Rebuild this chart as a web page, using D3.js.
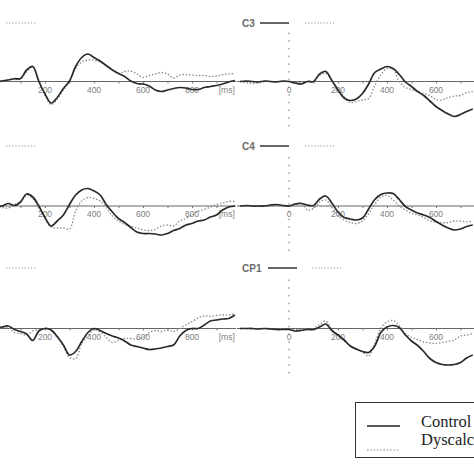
<!DOCTYPE html>
<html><head><meta charset="utf-8">
<script src="https://cdn.jsdelivr.net/npm/d3@7"></script>
<style>html,body{margin:0;padding:0;background:#fff;overflow:hidden}svg{display:block}</style>
</head><body>
<script>
// ---- data (ms, µV-like units; positive = up) ----
const timesLeft = d3.range(0, 1000, 25);      // 0 .. 975
const timesRight = d3.range(-200, 775, 25);   // -200 .. 750
const panelLabels = ["", "C3", "", "C4", "", "CP1"];
const legendLabels = ["Control", "Dyscalculia"];
const tickLabelValues = [0, 200, 400, 600, 800];

// left column, row 1
const L1_control = [0,0.1,0.3,0.55,0.6,2.3,3.0,0,-2.5,-4.3,-3.2,-1.4,0.1,3.0,4.8,5.5,4.8,4.1,3.2,2.3,1.6,1.0,0.1,-0.4,-0.5,-0.9,-1.7,-2.0,-1.7,-1.4,-1.2,-1.3,-1.6,-1.6,-1.2,-1.0,-0.8,-0.5,-0.1,0.2];
const L1_dyscalc = [0,0,0.4,0.4,0.5,2.0,2.9,0.2,-2.7,-4.6,-3.5,-1.7,0,2.6,3.9,4.3,4.3,3.9,3.2,2.3,1.6,2.0,2.1,1.5,0.8,1.2,1.5,1.8,1.5,0.7,1.3,1.4,1.3,1.2,1.2,1.0,1.1,1.4,1.5,1.6];
// left column, row 2
const L2_control = [0,0,0.5,0.1,0.8,2.4,1.8,0,-2.3,-4.0,-3.0,-1.8,0.3,2.2,3.2,3.5,3.0,2.2,0.3,-1.2,-2.5,-3.3,-4.3,-5.2,-5.5,-5.5,-5.6,-5.8,-5.5,-4.9,-4.5,-3.8,-3.5,-3.0,-2.8,-2.2,-1.8,-0.8,-0.2,0];
const L2_dyscalc = [0,-0.3,-0.4,0.3,0.8,2.2,1.5,-0.5,-2.5,-4.2,-4.4,-4.4,-4.6,-1.0,1.0,1.7,1.5,1.0,-0.3,-2.0,-3.0,-3.7,-4.0,-4.4,-4.8,-4.9,-4.7,-4.0,-3.8,-4.0,-3.0,-2.5,-1.8,-1.0,-0.7,-0.2,0.3,0.6,0.9,0.9];
// left column, row 3
const L3_control = [0,0.3,0.5,-0.2,-0.6,-1.1,-2.4,-0.5,0,-0.3,-1.6,-3.3,-5.3,-4.6,-2.6,-0.8,0,-0.4,-1.0,-1.5,-1.9,-2.5,-3.3,-3.6,-3.9,-4.2,-4.1,-3.9,-3.6,-3.3,-1.5,-0.4,0,0,0.7,1.5,1.7,1.9,2.0,2.7];
const L3_dyscalc = [0,0.2,0.2,-0.8,-1.0,-1.3,-0.5,-0.2,0,-0.4,-1.8,-3.5,-5.8,-6.0,-3.0,-1.5,-0.2,-0.7,-1.8,-2.8,-2.3,-2.0,-2.0,-2.1,-1.8,-0.8,-0.4,-0.6,-0.3,-0.6,0,0.7,1.4,2.1,2.5,2.4,2.6,2.7,2.7,3.0];
// right column, C3
const C3_control = [0,0.1,0,-0.1,0.1,0,-0.1,0.1,0,-0.3,-0.5,0,0,1.5,2.0,0.2,-1.7,-3.3,-3.8,-3.5,-2.4,-0.5,1.8,2.5,3.0,2.6,1.4,-0.1,-1.0,-2.0,-2.8,-3.9,-5.0,-5.8,-6.5,-7.0,-6.6,-6.0,-5.5];
const C3_dyscalc = [0,-0.2,-0.4,-0.3,0,0,0,0,0,-0.1,-0.2,0,0,1.2,1.6,0.2,-1.5,-3.0,-4.2,-4.0,-3.7,-3.4,-0.8,1.3,2.6,2.4,0,-1.2,-1.6,-2.0,-2.4,-2.8,-3.6,-3.7,-3.2,-2.9,-2.8,-2.2,-2.0];
// right column, C4
const C4_control = [0,0.1,0,0,0,0.2,0.3,0.1,0,0.4,0.5,0.2,0.1,1.4,2.0,0.6,-1.2,-2.3,-2.6,-2.8,-2.4,-0.6,1.3,2.3,2.6,2.5,1.3,-0.1,-0.8,-1.4,-1.8,-2.3,-3.1,-3.8,-4.4,-4.8,-4.6,-4.1,-3.8];
const C4_dyscalc = [0,0,0,-0.1,0,0.1,0.2,0,0,0.2,0.6,-0.8,-0.5,0.8,1.2,-0.3,-1.8,-2.8,-3.3,-3.5,-3.0,-1.5,0.3,1.8,2.1,1.2,0,-0.8,-1.5,-1.8,-2.3,-3.0,-3.2,-3.4,-3.3,-3.0,-3.0,-3.2,-3.0];
// right column, CP1
const CP1_control = [0,0,0,-0.1,0,-0.1,-0.2,-0.2,-0.2,-0.5,-0.4,-0.2,-0.2,0.3,0.9,-0.4,-1.3,-2.3,-3.5,-4.1,-4.6,-4.8,-3.5,-0.8,0.3,0.6,0.2,-1.3,-2.5,-3.4,-4.6,-6.0,-6.8,-7.2,-7.3,-7.2,-6.8,-5.9,-5.3];
const CP1_dyscalc = [0,0,-0.1,0,0,0,-0.1,-0.1,-0.1,-0.2,-0.2,-0.1,0,0.8,1.5,-0.3,-1.5,-2.5,-3.5,-4.2,-4.7,-5.5,-3.0,0,1.3,1.6,0.6,-1.0,-1.8,-2.2,-2.7,-2.9,-3.0,-2.8,-2.6,-2.3,-1.5,-1.3,-1.0];

// ---- layout ----
const W = 474, H = 474;
const svg = d3.select("body").append("svg").attr("width", W).attr("height", H)
  .style("font-family", "Arial, 'Liberation Sans', sans-serif");

const colZero = [-4, 289];              // x of 0 ms
const pxPerMs = 0.245;
const baselines = [81.5, 206, 328.5];
const axisSpan = [[0, 236], [237, 474]];

const panels = [
  {col:0,row:0,times:timesLeft,c:L1_control,d:L1_dyscalc},
  {col:1,row:0,times:timesRight,c:C3_control,d:C3_dyscalc},
  {col:0,row:1,times:timesLeft,c:L2_control,d:L2_dyscalc},
  {col:1,row:1,times:timesRight,c:C4_control,d:C4_dyscalc},
  {col:0,row:2,times:timesLeft,c:L3_control,d:L3_dyscalc},
  {col:1,row:2,times:timesRight,c:CP1_control,d:CP1_dyscalc}
];

panels.forEach((p, i) => {
  const x = d3.scaleLinear().domain([0, 1000]).range([colZero[p.col], colZero[p.col] + 1000 * pxPerMs]);
  const b = baselines[p.row];
  const y = d3.scaleLinear().domain([-10, 10]).range([b + 50, b - 50]);
  const g = svg.append("g");

  // baseline
  g.append("line").attr("x1", axisSpan[p.col][0]).attr("x2", axisSpan[p.col][1])
    .attr("y1", y(0)).attr("y2", y(0)).attr("stroke", "#666").attr("stroke-width", 1.2);

  // axis ticks and labels (only those inside the picture)
  const axis = d3.axisBottom(x).tickValues(d3.range(100, 1000, 100)).tickSize(2).tickFormat("");
  const ag = g.append("g").attr("transform", `translate(0,${y(0)})`).call(axis);
  ag.select(".domain").remove();
  ag.selectAll("line").attr("stroke", "#777");
  const inside = tickLabelValues.filter(d => x(d) > 6 && x(d) < W - 6);
  g.selectAll("text.tl").data(inside).enter().append("text")
    .attr("x", d => x(d)).attr("y", y(0) + 11).attr("text-anchor", "middle")
    .attr("font-size", 8.5).attr("fill", "#808080").text(d => d);
  if (x(942) + 10 < W) {
    g.append("text").attr("x", x(942)).attr("y", y(0) + 11).attr("text-anchor", "middle")
      .attr("font-size", 8.5).attr("fill", "#808080").text("[ms]");
  }

  // vertical dotted axis at 0 ms
  g.append("line").attr("x1", x(0)).attr("x2", x(0))
    .attr("y1", b - 49).attr("y2", b + 50)
    .attr("stroke", "#777").attr("stroke-width", 1).attr("stroke-dasharray", "1.6,6.1");

  const line = d3.line().x((d, k) => x(p.times[k])).y(d => y(d)).curve(d3.curveCatmullRom.alpha(0.5));
  g.append("path").attr("d", line(p.d)).attr("fill", "none")
    .attr("stroke", "#8a8a8a").attr("stroke-width", 1.3).attr("stroke-dasharray", "1.5,1.8");
  g.append("path").attr("d", line(p.c)).attr("fill", "none")
    .attr("stroke", "#2a2a2a").attr("stroke-width", 1.7);

  // electrode label & swatches
  const ly = [23, 146, 268][p.row];
  if (p.col === 1) {
    const lab = panelLabels[i];
    g.append("text").attr("x", 242).attr("y", ly + 3.5).attr("font-size", 10)
      .attr("font-weight", "bold").attr("fill", "#6a6a6a").text(lab);
    const sx = lab === "CP1" ? 268 : 260;
    const dx = lab === "CP1" ? 312 : 305;
    g.append("line").attr("x1", sx).attr("x2", sx + 29).attr("y1", ly).attr("y2", ly)
      .attr("stroke", "#555").attr("stroke-width", 1.8);
    g.append("line").attr("x1", dx).attr("x2", dx + 29).attr("y1", ly).attr("y2", ly)
      .attr("stroke", "#999").attr("stroke-width", 1.2).attr("stroke-dasharray", "1.3,1.8");
  } else {
    g.append("line").attr("x1", 6).attr("x2", 37).attr("y1", ly).attr("y2", ly)
      .attr("stroke", "#999").attr("stroke-width", 1.2).attr("stroke-dasharray", "1.3,1.8");
  }
});

// ---- legend ----
const lg = svg.append("g");
lg.append("rect").attr("x", 355.5).attr("y", 402.5).attr("width", 140).attr("height", 55)
  .attr("fill", "#fff").attr("stroke", "#333").attr("stroke-width", 1);
lg.append("line").attr("x1", 367).attr("x2", 400).attr("y1", 426).attr("y2", 426)
  .attr("stroke", "#222").attr("stroke-width", 1.6);
lg.append("line").attr("x1", 367).attr("x2", 400).attr("y1", 450).attr("y2", 450)
  .attr("stroke", "#888").attr("stroke-width", 1.2).attr("stroke-dasharray", "1.5,1.8");
lg.selectAll("text").data(legendLabels).enter().append("text")
  .attr("x", 421).attr("y", (d, k) => 427 + k * 18)
  .attr("font-family", "'Liberation Serif', 'Times New Roman', serif")
  .attr("font-size", 16.5).attr("fill", "#222").text(d => d);
</script>
</body></html>
